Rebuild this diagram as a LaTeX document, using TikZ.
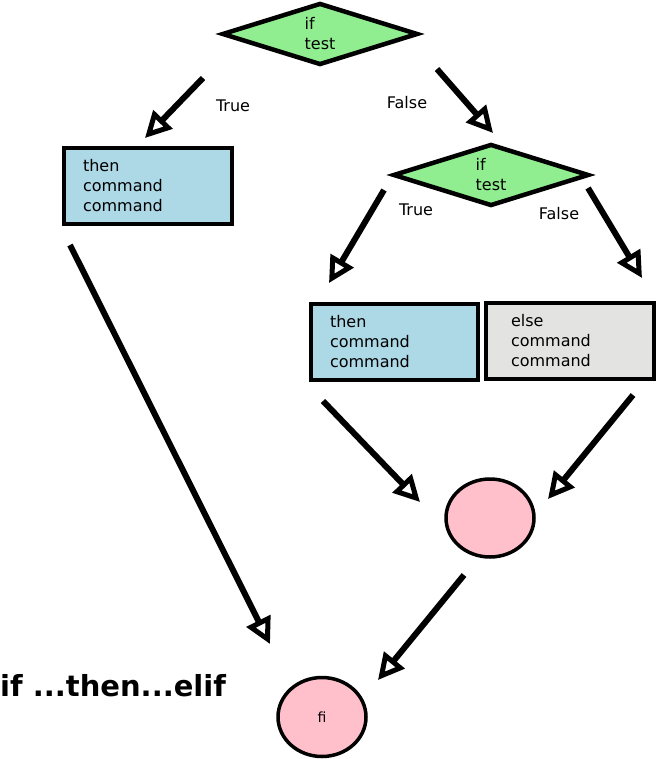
\documentclass[tikz,border=0pt]{standalone}
\usepackage{fontspec}
\setmainfont{DejaVu Sans}
\usetikzlibrary{shapes.geometric,arrows.meta}
\definecolor{dgreen}{RGB}{144,238,144}
\definecolor{bbox}{RGB}{173,216,230}
\definecolor{gbox}{RGB}{227,228,226}
\definecolor{pinkc}{RGB}{255,192,203}
\tikzset{
  txt/.style={font=\fontsize{16}{20}\selectfont},
  dia/.style={diamond, draw, line width=4.5pt, fill=dgreen, minimum width=196pt, minimum height=62pt, inner sep=0pt, aspect=3.16, align=left, txt},
  cbox/.style={rectangle, draw, line width=4pt, minimum height=76pt, align=left, txt},
  endc/.style={ellipse, draw, line width=3.5pt, fill=pinkc, minimum width=88pt, minimum height=78pt, inner sep=0pt},
  arr/.style={line width=6pt, -{Triangle[open, length=26pt, width=26pt, line width=5pt]}},
  lbl/.style={txt}
}
\begin{document}
\begin{tikzpicture}[x=1pt,y=-1pt]
\useasboundingbox (0,0) rectangle (660,759);
\node[dia] (d1) at (320,34) {if\\test};
\node[dia] (d2) at (491,175) {if\\test};
\node[cbox, fill=bbox, minimum width=168pt, text width=130pt] (b1) at (148,186) {then\\command\\command};
\node[cbox, fill=bbox, minimum width=167pt, text width=129pt] (b2) at (394.5,341.5) {then\\command\\command};
\node[cbox, fill=gbox, minimum width=168pt, text width=118pt] (b3) at (570,341) {else\\command\\command};
\node[endc] (c1) at (490,518) {};
\node[endc, minimum height=79pt, font=\fontsize{14}{16}\selectfont] (fi) at (322,717) {fi};
\node[anchor=west, inner sep=0pt, font=\fontsize{29}{31}\selectfont\bfseries] (title) at (0,686) {if ...then...elif};
\coordinate (a1s) at (203,78); \coordinate (a1e) at (145,138);
\coordinate (a2s) at (437,69); \coordinate (a2e) at (493,133);
\coordinate (a3s) at (384,190); \coordinate (a3e) at (329,283);
\coordinate (a4s) at (588,188); \coordinate (a4e) at (642,278);
\coordinate (a5s) at (323,401); \coordinate (a5e) at (420,502);
\coordinate (a6s) at (633,395); \coordinate (a6e) at (548,499);
\coordinate (a7s) at (464,575); \coordinate (a7e) at (378,680);
\coordinate (a8s) at (70,245); \coordinate (a8e) at (270,644);
\draw[arr] (a1s) -- (a1e);
\draw[arr] (a2s) -- (a2e);
\draw[arr] (a3s) -- (a3e);
\draw[arr] (a4s) -- (a4e);
\draw[arr] (a5s) -- (a5e);
\draw[arr] (a6s) -- (a6e);
\draw[arr] (a7s) -- (a7e);
\draw[arr] (a8s) -- (a8e);
\node[lbl] (l1) at (233,106) {True};
\node[lbl] (l2) at (407,103) {False};
\node[lbl] (l3) at (416,210) {True};
\node[lbl] (l4) at (559,214) {False};
\end{tikzpicture}
\end{document}
